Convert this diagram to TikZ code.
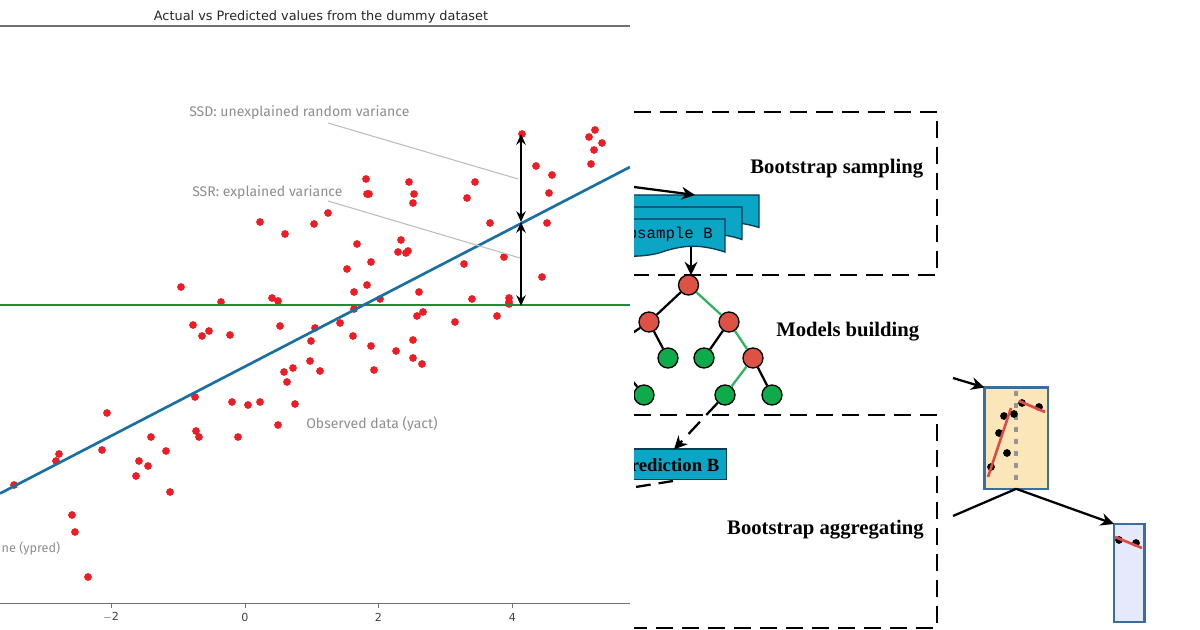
\documentclass[tikz,border=0pt]{standalone}
\usepackage{fontspec}
\setmainfont{Liberation Serif}
\newfontfamily\plotfont{DejaVu Sans}
\newfontfamily\notefont{Fira Sans}
\newfontfamily\codefont{Liberation Mono}
\usetikzlibrary{arrows.meta}
\definecolor{ptred}{HTML}{EE1C25}
\definecolor{fitblue}{HTML}{1A6FA3}
\definecolor{meangreen}{HTML}{228B3A}
\definecolor{axisgrey}{HTML}{707070}
\definecolor{notegrey}{HTML}{8E8E8E}
\definecolor{leadgrey}{HTML}{BDBDBD}
\definecolor{teal}{HTML}{0BA5C5}
\definecolor{tealline}{HTML}{0B3B55}
\definecolor{nodered}{HTML}{DE5246}
\definecolor{nodegreen}{HTML}{0DAB4A}
\definecolor{edgegreen}{HTML}{2DB55D}
\definecolor{beige}{HTML}{FBE6BA}
\definecolor{lilac}{HTML}{E6E8FB}
\definecolor{panelblue}{HTML}{3A6E9E}
\definecolor{fitred}{HTML}{DE4A45}
\tikzset{
  x=0.75pt,y=-0.75pt,
  plotlabel/.style={font=\plotfont\fontsize{9.65pt}{11pt}\selectfont,text=black!85,inner sep=0pt},
  ticklabel/.style={font=\plotfont\fontsize{8.3pt}{10pt}\selectfont,text=black!75,inner sep=0pt},
  notelabel/.style={font=\notefont\fontsize{10.5pt}{12pt}\selectfont,text=notegrey,inner sep=0pt},
  leader/.style={draw=leadgrey,line width=0.8pt},
  vararrow/.style={draw=black,line width=2pt,{Stealth[length=8pt,width=7pt]}-{Stealth[length=8pt,width=7pt]}},
  dashframe/.style={draw=black,line width=1.5pt,dash pattern=on 12.5pt off 7pt},
  treered/.style={circle,draw=black,line width=1pt,fill=nodered,minimum size=15pt,inner sep=0pt},
  treegreen/.style={circle,draw=black,line width=1pt,fill=nodegreen,minimum size=15pt,inner sep=0pt},
  treeedge/.style={draw=black,line width=1.7pt},
  greenedge/.style={draw=edgegreen,line width=1.7pt},
  flow/.style={draw=black,line width=1.7pt,-{Stealth[length=10pt,width=9.5pt]}},
  flowplain/.style={draw=black,line width=1.7pt},
  sheet/.style={draw=tealline,line width=1pt,fill=teal},
  section/.style={font=\bfseries\fontsize{15.5pt}{18pt}\selectfont,text=black,inner sep=0pt},
  panel/.style={draw=panelblue,line width=1.9pt,outer sep=0pt},
  fitline/.style={draw=fitred,line width=2pt},
}
\begin{document}
\begin{tikzpicture}
\useasboundingbox (0,0) rectangle (1200,630);
\fill[white] (0,0) rectangle (1200,630);
% ---------- left: regression plot
\begin{scope}
\clip (0,0) rectangle (630,630);
\draw[axisgrey,line width=0.9pt] (0,26) -- (630,26);
\draw[axisgrey,line width=0.9pt] (0,603.5) -- (630,603.5);
\foreach \tx in {111,245,378.5,512.5} \draw[axisgrey,line width=0.6pt] (\tx,603.5) -- (\tx,608);
\node[plotlabel] (title) at (321,16.5) {Actual vs Predicted values from the dummy dataset};
\node[ticklabel] (tm2) at (111,617) {$-$2};
\node[ticklabel] (t0) at (245,617) {0};
\node[ticklabel] (t2) at (378.5,617) {2};
\node[ticklabel] (t4) at (512.5,617) {4};
\foreach \px/\py in {181/287,260/222,285/234,314/224,221/302,272/298,278/301,
 522/134,595/130,589/137,602/143,594/150,591/164,536/166,552/175,549/193,547/223,
 366/179,409/182,475/182,367/194,369/194,414/194,413/203,467/198,328/213,490/223,
 357/244,401/240,398/252,406/253,408/251,371/262,347/269,504/257,464/264,542/277,
 367/285,354/292,419/292,380/299,472/299,509/298,509/302,509/304,354/309,423/312,
 417/316,497/316,455/322,340/323,353/336,413/340,371/346,396/351,413/358,
 193/325,209/331,202/336,230/335,280/326,315/328,311/341,310/361,293/368,284/372,
 287/382,320/371,195/397,232/402,248/405,260/402,295/404,107/413,278/425,196/431,
 199/437,238/437,151/437,102/450,59/454,56/461,166/451,139/461,148/466,136/476,
 170/492,14/485,72/515,75/532,88/577,374/370,422/364}
  \fill[ptred] (\px,\py) circle (2.9pt);
\draw[meangreen,line width=1.6pt] (0,305) -- (630,305);
\draw[fitblue,line width=2pt] (0,493.5) -- (630,167);
\coordinate (ytop) at (521,134);
\coordinate (yfit) at (521,222);
\coordinate (ymean) at (521,306);
\draw[vararrow] (ytop) -- (yfit);
\draw[vararrow] (yfit) -- (ymean);
\node[notelabel,anchor=west] (ssd) at (189,112.5) {SSD: unexplained random variance};
\node[notelabel,anchor=west] (ssr) at (192,193) {SSR: explained variance};
\node[notelabel,anchor=west] (obs) at (306,424.5) {Observed data (yact)};
\node[notelabel,anchor=east,font=\notefont\fontsize{9.5pt}{12pt}\selectfont] (reg) at (60.5,548) {ne (ypred)};
\coordinate (ssdA) at (328,123);
\coordinate (ssdB) at (518,179);
\coordinate (ssrA) at (328,201);
\coordinate (ssrB) at (520,258);
\draw[leader] (ssdA) -- (ssdB);
\draw[leader] (ssrA) -- (ssrB);
\end{scope}
% ---------- middle: bootstrap flow
\begin{scope}
\clip (634,0) rectangle (950,630);
\draw[dashframe] (634,112) -- (937,112) -- (937,275) -- (634,275);
\draw[dashframe] (634,415) -- (937,415) -- (937,628) -- (634,628);
\draw[sheet] (620,195) -- (759,195) -- (759,227.5) .. controls (735,220) and (720,222) .. (700,230) -- (620,230) -- cycle;
\draw[sheet] (620,207) -- (742,207) -- (742,239.5) .. controls (720,232) and (705,234) .. (690,240) -- (620,242) -- cycle;
\draw[sheet] (620,219) -- (725,219) -- (725,252) .. controls (700,244) and (685,245) .. (665,251) .. controls (655,255) and (640,257) .. (620,256) -- cycle;
\node[font=\codefont\fontsize{11.8pt}{13pt}\selectfont,text=black,anchor=east,inner sep=0pt] (subB) at (713,234) {bsample B};
\coordinate (subBout) at (691,247);
\coordinate (feedA) at (634,187);
\coordinate (feedB) at (695,195);
\draw[flow] (feedA) -- (feedB);
\node[treered] (n0) at (688.5,285) {};
\node[treered] (n1) at (649,322) {};
\node[treered] (n2) at (729,322) {};
\node[treegreen] (n3) at (668,358) {};
\node[treegreen] (n4) at (704,358) {};
\node[treered] (n5) at (753,358) {};
\node[treegreen] (n6) at (644,395) {};
\node[treegreen] (n7) at (725,395) {};
\node[treegreen] (n8) at (772,395) {};
\coordinate (offA) at (625,338);
\coordinate (offB) at (625,372);
\draw[flow] (subBout) -- (691,275.3);
\draw[treeedge] (n0) -- (n1);
\draw[greenedge] (n0) -- (n2);
\draw[treeedge] (n1) -- (offA);
\draw[treeedge] (n1) -- (n3);
\draw[treeedge] (n2) -- (n4);
\draw[greenedge] (n2) -- (n5);
\draw[greenedge] (n5) -- (n7);
\draw[treeedge] (n5) -- (n8);
\draw[treeedge] (offB) -- (n6);
\node[draw=tealline,line width=1pt,fill=teal,minimum width=112pt,minimum height=23pt,inner sep=0pt,outer sep=0pt,anchor=north east] (predbox) at (726.5,449) {};
\node[font=\bfseries\fontsize{14pt}{16pt}\selectfont,text=black,anchor=east,inner sep=0pt] (predB) at (719.5,465.5) {Prediction B};
\draw[line width=1.7pt,dash pattern=on 12.5pt off 7pt,-{Stealth[length=10pt,width=9.5pt]}] (n7) -- (674,449.5);
\coordinate (predOut) at (620,489.5);
\draw[line width=1.7pt,dash pattern=on 11pt off 6pt] (673,481) -- (predOut);
\node[section,anchor=east] (boot) at (923.5,168.5) {Bootstrap sampling};
\node[section,anchor=east] (models) at (919.5,331.5) {Models building};
\node[section,anchor=east] (aggr) at (924,529.5) {Bootstrap aggregating};
\end{scope}
% ---------- right: stump panels
\node[panel,fill=beige,minimum width=47.5pt,minimum height=76pt,inner sep=0pt,anchor=north west] (leftleaf) at (984.5,387.5) {};
\node[panel,fill=lilac,minimum width=23pt,minimum height=73.5pt,inner sep=0pt,anchor=north west] (rightleaf) at (1114,524) {};
\draw[black!42,line width=3pt,dash pattern=on 3.75pt off 5.25pt] (1016,391) -- (1016,485);
\foreach \px/\py in {991/467,999/433,1007/453,1004/416,1014/414,1022/403,1039/407,1119/540,1136/543}
  \fill[black] (\px,\py) circle (2.9pt);
\draw[fitline] (988,477) -- (1011,408);
\draw[fitline] (1019,401) -- (1045,412);
\draw[fitline] (1115,537) -- (1142,548);
\coordinate (inA) at (953,378);
\coordinate (splitL) at (953,516);
\draw[flow] (inA) -- (leftleaf.north west);
\draw[flowplain] (leftleaf.south) -- (splitL);
\draw[flow] (leftleaf.south) -- (rightleaf.north west);
\end{tikzpicture}
\end{document}
